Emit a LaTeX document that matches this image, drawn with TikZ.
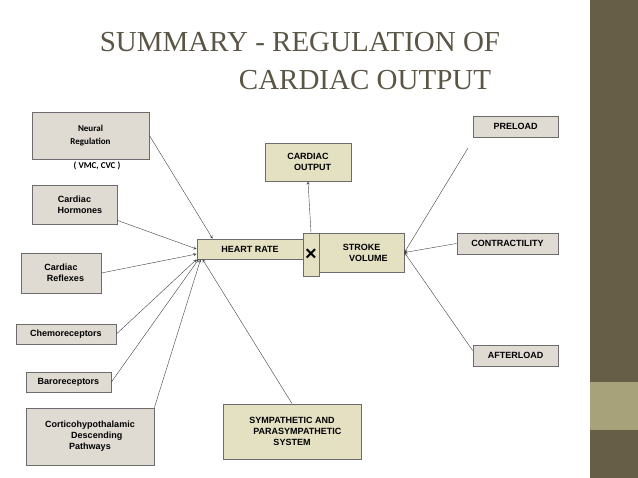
\documentclass[tikz,border=0pt]{standalone}
\usepackage{fontspec}
\setmainfont{Liberation Serif}
\setsansfont{Liberation Sans}
\newfontfamily\calibri{Carlito}
\usepackage{xcolor}
\usetikzlibrary{positioning}
\definecolor{olivedark}{HTML}{665E46}
\definecolor{olivelight}{HTML}{A8A27A}
\definecolor{greybox}{HTML}{DFDAD2}
\definecolor{yellowbox}{HTML}{E4E0C2}
\definecolor{titlecol}{HTML}{5A5545}

\begin{document}
\begin{tikzpicture}[x=1pt, y=-1pt,
  greynode/.style={rectangle, draw=gray!85!black, fill=greybox, thick, inner sep=0pt, align=center, font=\sffamily\bfseries\fontsize{9}{11}\selectfont},
  yellownode/.style={greynode, fill=yellowbox},
  link/.style={thin, draw=black!75, ->, >=stealth}]
\useasboundingbox (0,0) rectangle (638,478);
\fill[olivedark] (590,0) rectangle (638,478);
\fill[olivelight] (590,382) rectangle (638,430);

\node[font=\fontsize{29}{30}\selectfont, text=titlecol] at (300,42) (title1) {SUMMARY - REGULATION OF};
\node[font=\fontsize{29}{30}\selectfont, text=titlecol] at (365,80) (title2) {CARDIAC OUTPUT};

\node[greynode, minimum width=117, minimum height=47, font=\calibri\bfseries\fontsize{9}{13}\selectfont] at (90.5,135.5) (neural) {Neural\\ Regulation};
\node[font=\calibri\bfseries\fontsize{9}{11}\selectfont] at (97,166) (vmc) {( VMC, CVC )};
\node[greynode, minimum width=85, minimum height=39] at (74.5,204.5) (hormones) {Cardiac\\ \hspace*{1.2em}Hormones};
\node[greynode, minimum width=80, minimum height=40] at (61,273) (reflexes) {Cardiac\\ \hspace*{1em}Reflexes};
\node[greynode, minimum width=100, minimum height=20] at (66,334) (chemo) {Chemoreceptors};
\node[greynode, minimum width=85, minimum height=20] at (68.5,382) (baro) {Baroreceptors};
\node[greynode, minimum width=128, minimum height=57] at (90,436.5) (cortico) {Corticohypothalamic\\ \hspace*{1.5em}Descending\\ Pathways};
\node[yellownode, minimum width=138, minimum height=55] at (292,431.5) (symp) {SYMPATHETIC AND\\ \hspace*{1.2em}PARASYMPATHETIC\\ SYSTEM};

\node[yellownode, minimum width=106, minimum height=20] at (250,249) (hr) {HEART RATE};
\node[yellownode, minimum width=16, minimum height=43, font=\sffamily\bfseries\fontsize{20}{20}\selectfont] at (311,254.5) (times) {\char"00D7};
\node[yellownode, minimum width=85, minimum height=39] at (361.5,252.5) (sv) {STROKE\\ \hspace*{1.5em}VOLUME};
\node[yellownode, minimum width=86, minimum height=38] at (308,162) (co) {CARDIAC\\ \hspace*{1em}OUTPUT};

\node[greynode, minimum width=85, minimum height=21] at (515.5,126.5) (preload) {PRELOAD};
\node[greynode, minimum width=101, minimum height=21] at (507.5,243.5) (contract) {CONTRACTILITY};
\node[greynode, minimum width=85, minimum height=21] at (515.5,355.5) (afterload) {AFTERLOAD};
\coordinate (preloadend) at (468,148);

\draw[link] (neural.east) -- ([xshift=16]hr.north west);
\draw[link] ([yshift=4]hormones.south east) -- (hr.west);
\draw[link] (reflexes.east) -- ([yshift=-5]hr.west);
\draw[link] (chemo.east) -- ([xshift=0]hr.south west);
\draw[link] (baro.east) -- ([xshift=2]hr.south west);
\draw[link] (cortico.north east) -- ([xshift=4]hr.south west);
\draw[link] (symp.north) -- ([xshift=6]hr.south west);
\draw[link] (times.north) -- (co.south);
\draw[link] (preloadend) -- (sv.east);
\draw[link] (contract.west) -- (sv.east);
\draw[link] ([yshift=5]afterload.west) -- (sv.east);
\end{tikzpicture}
\end{document}
